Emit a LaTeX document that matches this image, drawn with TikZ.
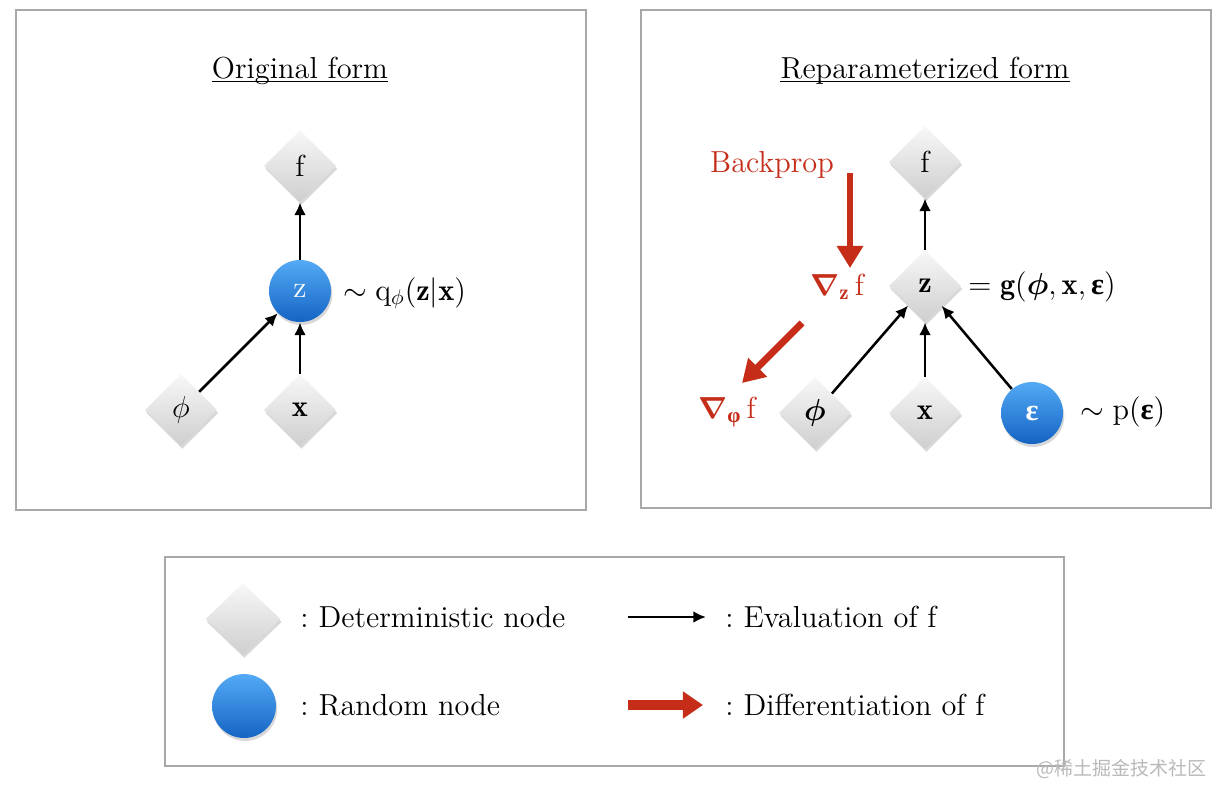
\documentclass[tikz,border=0pt]{standalone}
\usepackage{amsmath,bm}
\usepackage{fontspec}
\newfontfamily\cjk{Noto Sans CJK SC}
\newfontfamily\grk{Liberation Serif}
\newcommand{\beps}{\text{\grk\bfseries ε}}
\newcommand{\bphiup}{\text{\grk\bfseries φ}}
\usetikzlibrary{shapes.geometric,shadows,arrows.meta}
\definecolor{bred}{RGB}{197,45,25}
\definecolor{framegray}{RGB}{168,168,168}
\definecolor{blueT}{RGB}{84,170,245}
\definecolor{blueB}{RGB}{20,100,195}
\tikzset{
  det/.style={diamond, aspect=1, minimum width=34.1pt, minimum height=34.1pt, inner sep=0pt,
    top color=gray!6, bottom color=gray!38, draw=none,
    drop shadow={opacity=0.3, shadow xshift=0.6pt, shadow yshift=-1.4pt}},
  rnd/.style={circle, minimum size=29.4pt, inner sep=0pt, top color=blueT, bottom color=blueB,
    draw=none, text=white,
    drop shadow={opacity=0.3, shadow xshift=0.6pt, shadow yshift=-1.4pt}},
  panel/.style={draw=framegray, line width=0.7pt},
  evalarrow/.style={-{Latex[length=6pt,width=5.6pt]}, line width=1.2pt, black},
  diffarrow/.style={-{Triangle[length=10.5pt,width=12pt]}, line width=3.3pt, bred},
  lbl/.style={inner sep=0pt, anchor=west},
  redlbl/.style={inner sep=0pt, text=bred},
  title/.style={inner sep=0pt, anchor=base},
  uline/.style={line width=0.6pt, black}
}
\begin{document}
\begin{tikzpicture}[x=0.474pt,y=-0.474pt,font=\fontsize{14.4}{17}\selectfont\frenchspacing]
\useasboundingbox[fill=white] (0,0) rectangle (1227,802);

% panels
\draw[panel] (16,10) rectangle (586,510);
\draw[panel] (641,10) rectangle (1211,508);
\draw[panel] (165,557) rectangle (1064,766);

% ---------- left panel ----------
\node[title] (t1) at (300,78) {Original form};
\draw[uline] ([yshift=-1.6pt]t1.base west) -- ([yshift=-1.6pt]t1.base east);
\node[det] (f1) at (300,166) {f};
\node[rnd] (z1) at (300,291) {z};
\node[det] (phi1) at (181,410) {$\phi$};
\node[det] (x1) at (300,410) {$\mathbf{x}$};
\node[lbl] (q1) at (343,293) {$\sim \mathrm{q}_{\phi}(\mathbf{z}|\mathbf{x})$};
\draw[evalarrow] (z1) -- (f1);
\draw[evalarrow] (phi1) -- (z1);
\draw[evalarrow] (x1) -- (z1);

% ---------- right panel ----------
\node[title] (t2) at (925,78) {Reparameterized form};
\draw[uline] ([yshift=-1.6pt]t2.base west) -- ([yshift=-1.6pt]t2.base east);
\node[det] (f2) at (925,162) {f};
\node[det] (z2) at (925,286) {$\mathbf{z}$};
\node[det] (phi2) at (815,413) {$\boldsymbol{\phi}$};
\node[det] (x2) at (925,413) {$\mathbf{x}$};
\node[rnd] (eps) at (1032,413) {$\beps$};
\node[lbl] (g2) at (968,287) {$=\mathbf{g}(\boldsymbol{\phi},\mathbf{x},\beps)$};
\node[lbl] (p2) at (1080,412) {$\sim \mathrm{p}(\beps)$};
\draw[evalarrow] (z2) -- (f2);
\draw[evalarrow] (phi2) -- (z2);
\draw[evalarrow] (x2) -- (z2);
\draw[evalarrow] (eps) -- (z2);

\node[redlbl] (bp) at (772,165) {Backprop};
\node[redlbl] (gz) at (837,287) {$\boldsymbol{\nabla}_{\mathbf{z}}\,\mathrm{f}$};
\node[redlbl] (gphi) at (727,412) {$\boldsymbol{\nabla}_{\bphiup}\,\mathrm{f}$};
\coordinate (bpA) at (850,173);
\coordinate (bpB) at (850,268);
\coordinate (dA) at (802,323);
\coordinate (dB) at (742,383);
\draw[diffarrow] (bpA) -- (bpB);
\draw[diffarrow] (dA) -- (dB);

% ---------- legend ----------
\node[det, minimum width=35.5pt, minimum height=34.1pt] (ldet) at (243,619) {};
\node[rnd, minimum size=30.3pt] (lrnd) at (244,706) {};
\node[lbl] (ldett) at (300,617) {: Deterministic node};
\node[lbl] (lrndt) at (300,705) {: Random node};
\coordinate (leA) at (628,617);
\coordinate (leB) at (706,617);
\coordinate (ldA) at (628,705);
\coordinate (ldB) at (703,705);
\draw[evalarrow] (leA) -- (leB);
\draw[diffarrow, line width=4.3pt, -{Triangle[length=9.5pt,width=12.3pt]}] (ldA) -- (ldB);
\node[lbl] (levt) at (725,617) {: Evaluation of f};
\node[lbl] (ldit) at (725,705) {: Differentiation of f};

% watermark
\node[anchor=east, inner sep=0pt, text=gray!55, font=\cjk\fontsize{9}{11}\selectfont] (wm) at (1207,769) {@稀土掘金技术社区};
\end{tikzpicture}
\end{document}
